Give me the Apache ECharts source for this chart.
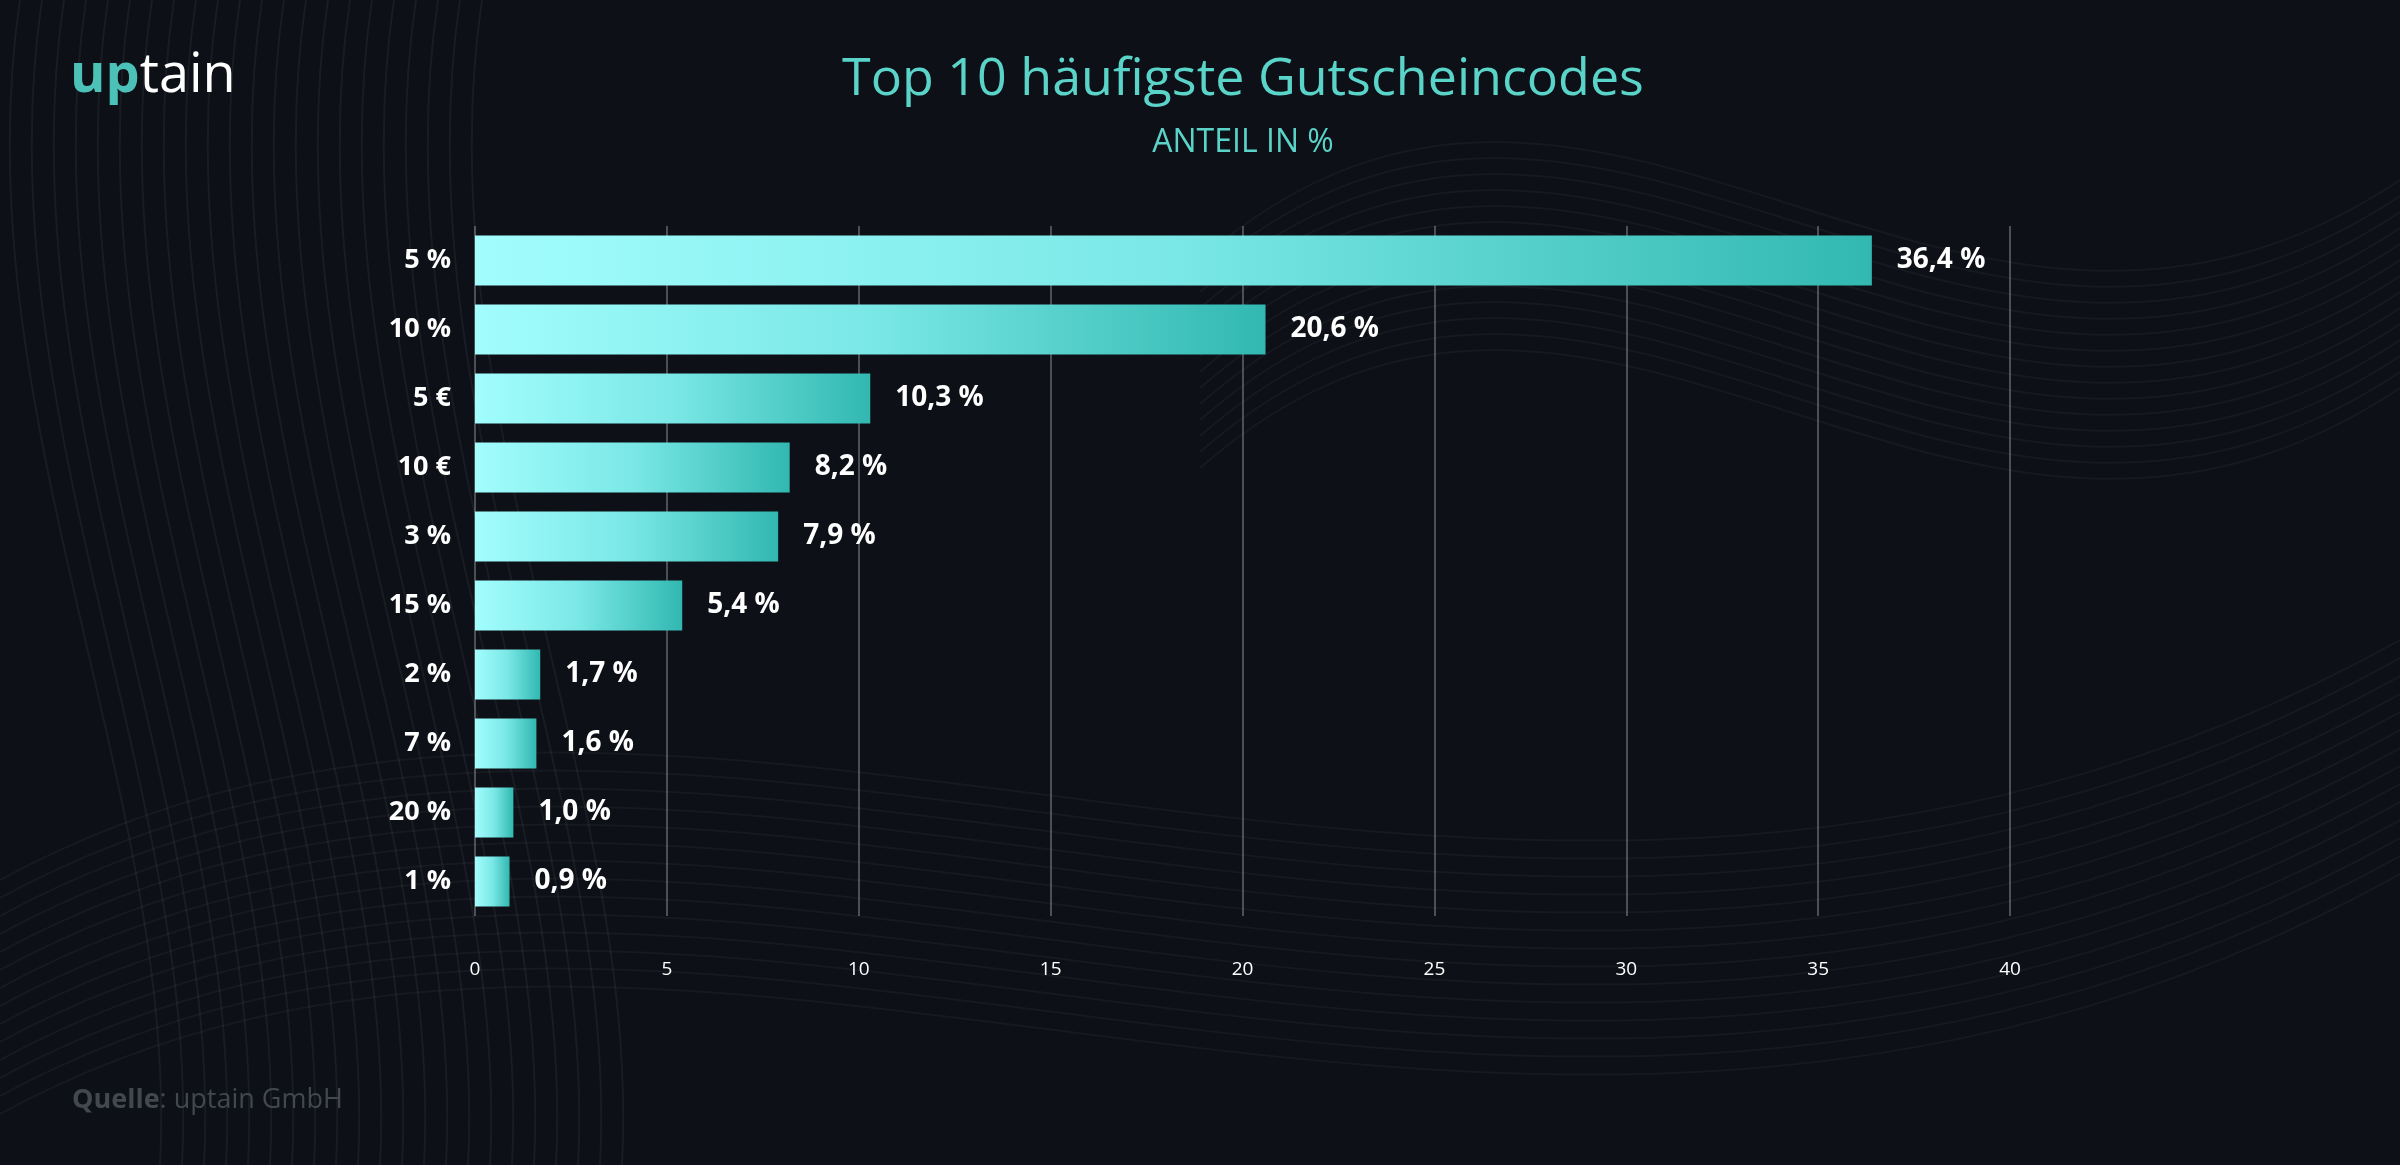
<!DOCTYPE html>
<html>
<head>
<meta charset="utf-8">
<script src="https://cdn.jsdelivr.net/npm/echarts@6/dist/echarts.min.js"></script>
<style>
  html, body { margin: 0; padding: 0; background: #0d1017; }
  #chart { width: 2400px; height: 1165px; }
</style>
</head>
<body>
<div id="chart"></div>
<script>
var categories = ['5 %', '10 %', '5 €', '10 €', '3 %', '15 %', '2 %', '7 %', '20 %', '1 %']
var shares = [36.4, 20.6, 10.3, 8.2, 7.9, 5.4, 1.7, 1.6, 1.0, 0.9]
var xTicks = [0, 5, 10, 15, 20, 25, 30, 35, 40]

var chart = echarts.init(document.getElementById('chart'))

// faint wavy lines in the background (decoration only)
var deco = []
for (var i = 0; i < 22; i++) {
  var x0 = 20 + i * 22
  deco.push({
    type: 'bezierCurve', silent: true, z: -10,
    shape: { x1: x0, y1: 0, x2: x0 + 140, y2: 1165, cpx1: x0 - 60, cpy1: 400, cpx2: x0 + 160, cpy2: 800 },
    style: { stroke: 'rgba(255,255,255,0.05)', lineWidth: 2, fill: null }
  })
}
for (var j = 0; j < 14; j++) {
  var y0 = 760 + j * 18
  deco.push({
    type: 'bezierCurve', silent: true, z: -10,
    shape: { x1: 0, y1: y0 + 120, x2: 2400, y2: y0 - 120, cpx1: 700, cpy1: y0 - 260, cpx2: 1500, cpy2: y0 + 380 },
    style: { stroke: 'rgba(255,255,255,0.04)', lineWidth: 2, fill: null }
  })
}
for (var k = 0; k < 14; k++) {
  var y1 = 60 + k * 16
  deco.push({
    type: 'bezierCurve', silent: true, z: -10,
    shape: { x1: 1200, y1: y1 + 200, x2: 2400, y2: y1 + 120, cpx1: 1600, cpy1: y1 - 150, cpx2: 1950, cpy2: y1 + 420 },
    style: { stroke: 'rgba(255,255,255,0.04)', lineWidth: 2, fill: null }
  })
}

chart.setOption({
  backgroundColor: '#0d1017',
  graphic: deco.concat([
    {
      type: 'text', x: 1243, y: 80,
      style: {
        text: 'Top 10 häufigste Gutscheincodes',
        fill: '#5ad3c8', fontSize: 52, fontFamily: 'Open Sans',
        align: 'center', verticalAlign: 'middle'
      }
    },
    {
      type: 'text', x: 1243, y: 143,
      style: {
        text: 'ANTEIL IN %',
        fill: '#5ad3c8', fontSize: 32, fontFamily: 'Open Sans',
        align: 'center', verticalAlign: 'middle'
      }
    },
    {
      type: 'text', left: 70, top: 50,
      style: {
        text: '{a|up}{b|tain}',
        rich: {
          a: { fill: '#4cc1b8', fontSize: 54, fontWeight: 'bold', fontFamily: 'Open Sans' },
          b: { fill: '#ffffff', fontSize: 54, fontFamily: 'Open Sans' }
        }
      }
    },
    {
      type: 'text', x: 72, y: 1100,
      style: {
        text: '{a|Quelle}{b|: uptain GmbH}',
        verticalAlign: 'middle',
        rich: {
          a: { fill: '#424750', fontSize: 27, fontWeight: 'bold', fontFamily: 'Open Sans' },
          b: { fill: '#424750', fontSize: 27, fontFamily: 'Open Sans' }
        }
      }
    }
  ]),
  grid: { left: 475, right: 390, top: 226, height: 690 },
  xAxis: {
    type: 'value',
    min: 0,
    max: 40,
    interval: 5,
    axisLine: { show: false },
    axisTick: { show: false },
    splitLine: { show: true, lineStyle: { color: 'rgba(200,205,212,0.45)', width: 1.5 } },
    axisLabel: {
      color: '#ffffff', fontSize: 19, margin: 44, fontFamily: 'Open Sans',
      formatter: function(v) { return xTicks.indexOf(v) >= 0 ? String(v) : '' }
    }
  },
  yAxis: {
    type: 'category',
    inverse: true,
    data: categories,
    axisLine: { show: false },
    axisTick: { show: false },
    axisLabel: { color: '#ffffff', fontSize: 27, fontWeight: 'bold', margin: 24, fontFamily: 'Open Sans' }
  },
  series: [
    {
      type: 'bar',
      data: shares,
      barWidth: 50,
      itemStyle: {
        color: {
          type: 'linear', x: 0, y: 0, x2: 1, y2: 0,
          colorStops: [
            { offset: 0, color: '#a2fdfd' },
            { offset: 0.5, color: '#7ae8e6' },
            { offset: 1, color: '#32b8b1' }
          ]
        }
      },
      label: {
        show: true,
        position: 'right',
        distance: 25,
        color: '#ffffff',
        fontSize: 28,
        fontWeight: 'bold',
        fontFamily: 'Open Sans',
        formatter: function(p) { return p.value.toFixed(1).replace('.', ',') + ' %' }
      }
    }
  ]
})
</script>
</body>
</html>
